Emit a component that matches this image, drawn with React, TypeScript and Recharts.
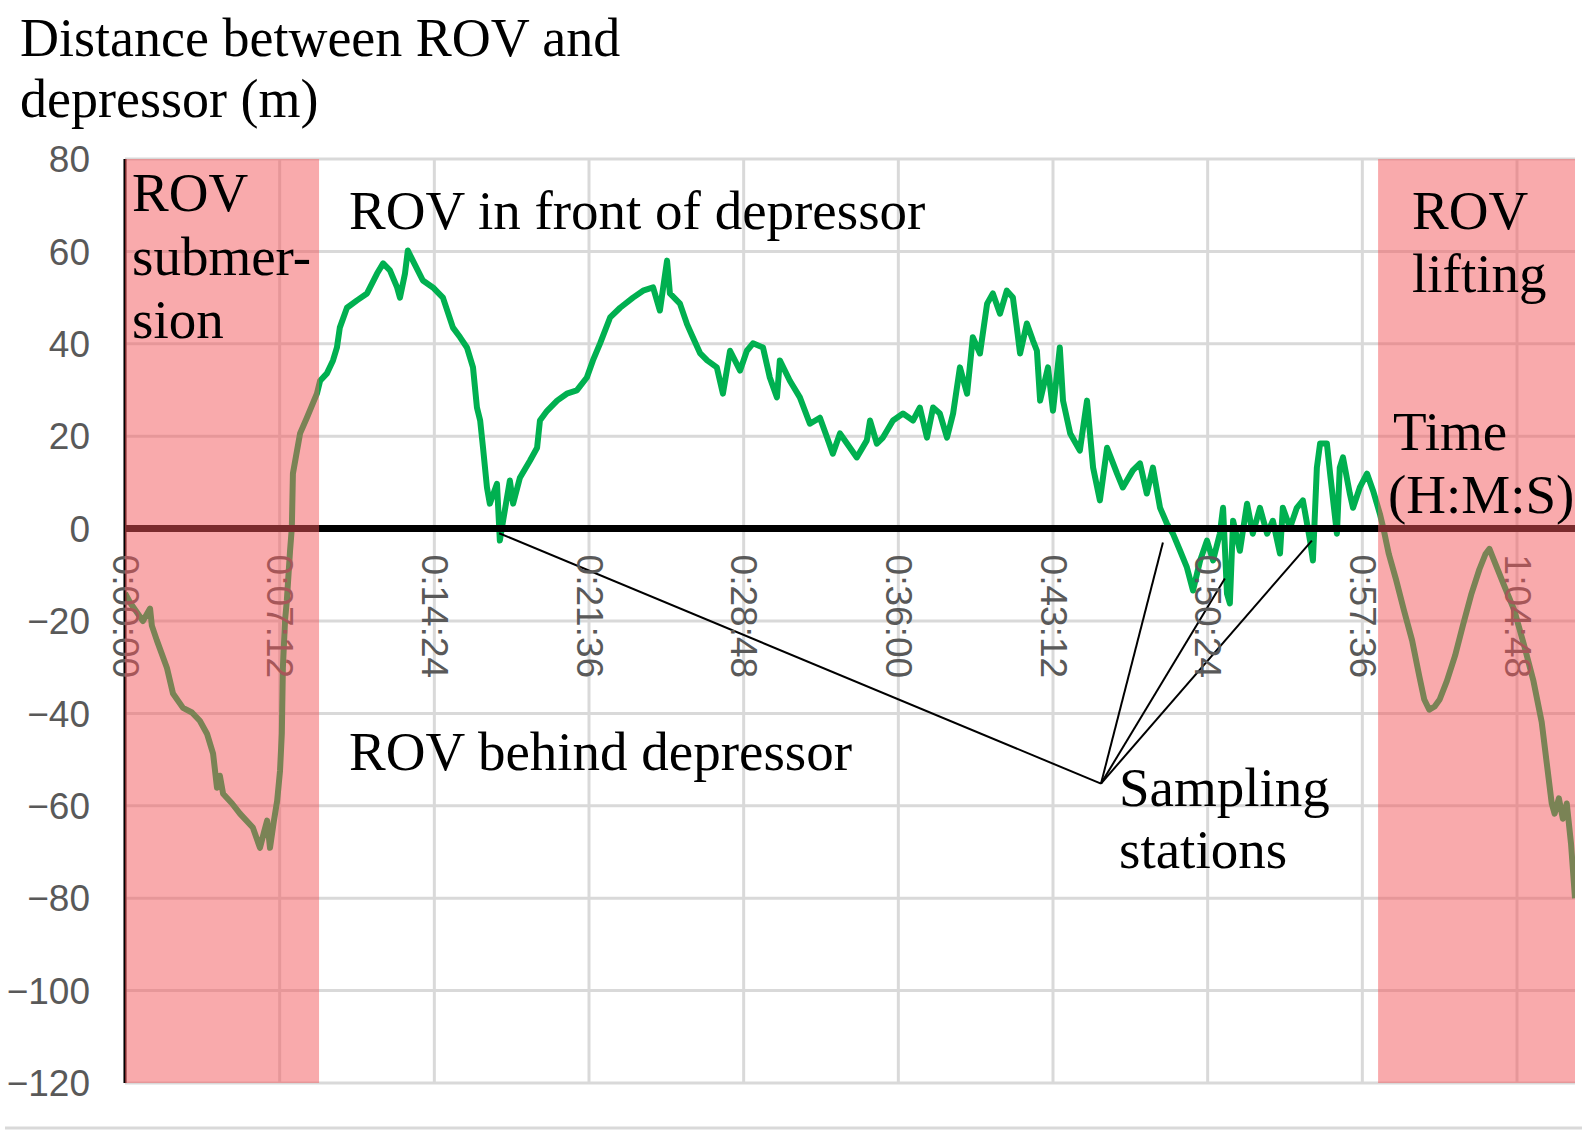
import {
  LineChart,
  Line,
  XAxis,
  YAxis,
  CartesianGrid,
  ReferenceLine,
  ReferenceArea,
  ReferenceDot,
} from "recharts";

// time since start (s) and ROV-depressor distance (m)
const TIME_S = [
  0, 14, 50, 70, 75, 89, 117, 134, 162, 187, 209, 229, 246, 257, 265, 274, 299, 321, 357, 377,
  388, 397, 405, 416, 425, 433, 438, 441, 447, 452, 461, 466, 469, 489, 508, 536, 545, 564, 581, 592,
  600, 620, 648, 676, 704, 721, 740, 760, 768, 782, 790, 804, 832, 860, 888, 916, 936, 955, 972, 983,
  992, 1000, 1011, 1019, 1039, 1047, 1056, 1075, 1084, 1103, 1131, 1151, 1159, 1179, 1207, 1234, 1262, 1290, 1307, 1327,
  1355, 1383, 1419, 1447, 1475, 1494, 1514, 1522, 1550, 1570, 1586, 1606, 1626, 1653, 1670, 1690, 1718, 1737, 1754, 1782,
  1801, 1821, 1829, 1857, 1885, 1913, 1941, 1961, 1977, 1997, 2025, 2044, 2072, 2081, 2100, 2117, 2145, 2173, 2201, 2220,
  2240, 2257, 2276, 2296, 2313, 2332, 2352, 2368, 2388, 2408, 2424, 2444, 2463, 2480, 2491, 2500, 2519, 2536, 2547, 2556,
  2578, 2592, 2611, 2620, 2640, 2667, 2687, 2704, 2723, 2743, 2771, 2787, 2815, 2835, 2854, 2871, 2891, 2910, 2927, 2947,
  2966, 2983, 3003, 3022, 3039, 3058, 3067, 3078, 3086, 3095, 3114, 3134, 3150, 3170, 3190, 3206, 3226, 3234, 3254, 3273,
  3290, 3310, 3318, 3329, 3338, 3357, 3366, 3385, 3393, 3402, 3421, 3430, 3449, 3469, 3486, 3505, 3515, 3530, 3550, 3572,
  3595, 3615, 3629, 3643, 3658, 3672, 3692, 3715, 3737, 3760, 3783, 3800, 3811, 3828, 3851, 3880, 3908, 3934, 3957, 3971,
  3985, 3993, 4005, 4016, 4027, 4039, 4050,
];

const DIST_M = [
  -14, -16, -20, -17.3, -21, -24.2, -30.1, -35.7, -38.8, -39.8, -41.6, -44.4, -48.7, -56.1, -53.5, -57.4, -59.5, -61.7, -64.7, -69.1,
  -65.8, -63.2, -69.1, -63.2, -58.9, -52.4, -44.4, -30.1, -19.9, -15.6, -4.8, 0.2, 11.9, 20.6, 24, 29.2, 32, 33.6, 36.4, 39.2,
  43.5, 47.8, 49.4, 50.9, 55.2, 57.4, 55.9, 52.2, 50, 55.2, 60.2, 58, 53.7, 52.2, 50, 43.5, 41.4, 39.2, 34.9, 26.2,
  23.4, 17.5, 8.9, 5.4, 9.7, -2.6, 1.7, 10.4, 5.4, 11, 14.7, 17.5, 23.4, 25.5, 27.7, 29.2, 29.9, 32.7, 36.4, 40.1,
  45.7, 47.8, 50, 51.5, 52.2, 47.2, 58, 50.9, 48.7, 44.2, 41.4, 38, 36.4, 34.9, 29.2, 38.5, 34.2, 38.5, 40.1, 39.2,
  32.7, 28.4, 36.4, 32, 28.4, 22.7, 24, 19.7, 16.2, 20.6, 17.5, 15.4, 19.1, 23.4, 18.4, 19.7, 23.4, 24.9, 23.4, 26.2,
  19.7, 26.2, 24.9, 19.7, 24.9, 34.9, 29.2, 41.4, 37.9, 48.7, 50.9, 46.5, 51.5, 50, 43.5, 37.9, 44.4, 40.7, 38.5, 27.7,
  34.9, 25.5, 39.2, 27.7, 20.6, 16.9, 27.7, 13.2, 6.1, 17.5, 11.9, 8.9, 12.6, 14.1, 7.6, 13.2, 4.5, 1.1, -1.1, -4.8,
  -8.4, -13.4, -6.9, -2.6, -6.9, -1.1, 4.5, -14.1, -16.2, 1.7, -4.8, 5.4, -1.1, 4.5, -1.1, 1.7, -5.4, 4.5, 0.2, 4.5,
  6.1, -2.6, -6.9, 13.2, 18.4, 18.4, 11.9, -1.1, 13.2, 15.4, 7.6, 4.5, 8.9, 11.9, 8.2, 3.2, 0, -5.5, -11, -17.6,
  -24.2, -31.9, -37, -39.2, -38.5, -37, -33, -27.5, -20.9, -14.3, -8.8, -5.5, -4.4, -7.7, -12.1, -17.6, -25.3, -33, -41.9, -50.7,
  -59.5, -61.7, -58.4, -62.8, -59.5, -68.3, -80,
];

const X_TICKS = [0, 432, 864, 1296, 1728, 2160, 2592, 3024, 3456, 3888];
const Y_TICKS = [-120, -100, -80, -60, -40, -20, 0, 20, 40, 60, 80];
const X_DOMAIN = [0, 4050];
const Y_DOMAIN = [-120, 80];

// submersion / lifting phases (s)
const PHASES = [
  [0, 542],
  [3500, 4050],
];

// sampling stations on the trace and the point the callout lines meet
const STATIONS = [
  { t: 1045, v: -1 },
  { t: 2899, v: -3 },
  { t: 3072, v: -10.8 },
  { t: 3315, v: -2.6 },
];
const CALLOUT = { t: 2726, v: -55.2 };

const data = TIME_S.map((t, i) => ({ t, v: DIST_M[i] }));

const W = 1595;
const H = 1141;
const MARGIN = { top: 159, right: 20, bottom: 0, left: 0 };
const SANS = "'Liberation Sans', Arial, sans-serif";
const SERIF = "'Liberation Serif', 'Times New Roman', serif";

const pad = (n: number) => String(n).padStart(2, "0");
const fmtTime = (s: number) =>
  `${Math.floor(s / 3600)}:${pad(Math.floor((s % 3600) / 60))}:${pad(s % 60)}`;
const fmtDist = (v: number) => (v < 0 ? `\u2212${-v}` : `${v}`);

// time labels sit on the zero line, rotated to read downwards
const TimeTick = ({ cx, cy, text }: { cx?: number; cy?: number; text: string }) => {
  if (cx == null || cy == null) return null;
  const y = cy + 26;
  return (
    <text
      x={cx}
      y={y}
      transform={`rotate(90, ${cx}, ${y})`}
      textAnchor="start"
      dominantBaseline="central"
      fontSize={37}
      fontFamily={SANS}
      fill="#595959"
    >
      {text}
    </text>
  );
};

// the x axis keeps its ticks for the grid but draws nothing at the bottom
const NoTick = () => <g />;

const notes = [
  { x: 20, y: 56, text: "Distance between ROV and", size: 54 },
  { x: 20, y: 117, text: "depressor (m)", size: 54 },
  { x: 349, y: 229, text: "ROV in front of depressor", size: 55 },
  { x: 349, y: 770, text: "ROV behind depressor", size: 55 },
  { x: 132, y: 211, text: "ROV", size: 55 },
  { x: 132, y: 275, text: "submer-", size: 55 },
  { x: 132, y: 338, text: "sion", size: 55 },
  { x: 1412, y: 229, text: "ROV", size: 55 },
  { x: 1412, y: 292, text: "lifting", size: 55 },
  { x: 1393, y: 450, text: "Time", size: 55 },
  { x: 1388, y: 513, text: "(H:M:S)", size: 55 },
  { x: 1119, y: 806, text: "Sampling", size: 55 },
  { x: 1119, y: 868, text: "stations", size: 55 },
];

export default function App() {
  return (
    <div style={{ position: "absolute", left: 0, top: 0, width: W, height: H, background: "#fff" }}>
      <LineChart width={W} height={H} data={data} margin={MARGIN}>
        <CartesianGrid stroke="#d9d9d9" strokeWidth={3} verticalValues={X_TICKS} />
        <XAxis
          type="number"
          dataKey="t"
          domain={X_DOMAIN}
          ticks={X_TICKS}
          interval={0}
          allowDataOverflow
          height={58}
          tick={NoTick}
          axisLine={false}
          tickLine={false}
        />
        <YAxis
          type="number"
          domain={Y_DOMAIN}
          ticks={Y_TICKS}
          width={125}
          tickFormatter={fmtDist}
          tick={{ fontSize: 37, fontFamily: SANS, fill: "#595959" }}
          tickLine={false}
          tickSize={0}
          tickMargin={35}
          axisLine={{ stroke: "#000", strokeWidth: 3 }}
        />
        <Line
          type="linear"
          dataKey="v"
          stroke="#00b050"
          strokeWidth={6}
          strokeLinejoin="round"
          dot={false}
          activeDot={false}
          isAnimationActive={false}
        />
        <ReferenceLine y={0} stroke="#000" strokeWidth={7} />
        {STATIONS.map((s, i) => (
          <ReferenceLine
            key={i}
            segment={[
              { x: CALLOUT.t, y: CALLOUT.v },
              { x: s.t, y: s.v },
            ]}
            stroke="#000"
            strokeWidth={2}
          />
        ))}
        {X_TICKS.map((t) => (
          <ReferenceDot
            key={t}
            x={t}
            y={0}
            r={0}
            shape={(p: any) => <TimeTick cx={p.cx} cy={p.cy} text={fmtTime(t)} />}
          />
        ))}
      </LineChart>

      {/* translucent phase bands go over the trace, ticks and zero line */}
      <div style={{ position: "absolute", left: 0, top: 0, pointerEvents: "none" }}>
        <LineChart width={W} height={H} data={data} margin={MARGIN}>
          <XAxis
            type="number"
            dataKey="t"
            domain={X_DOMAIN}
            allowDataOverflow
            height={58}
            tick={false}
            axisLine={false}
            tickLine={false}
          />
          <YAxis
            type="number"
            domain={Y_DOMAIN}
            width={125}
            tick={false}
            axisLine={false}
            tickLine={false}
          />
          <Line
            type="linear"
            dataKey="v"
            stroke="none"
            dot={false}
            activeDot={false}
            isAnimationActive={false}
          />
          {PHASES.map(([a, b]) => (
            <ReferenceArea
              key={a}
              x1={a}
              x2={b}
              y1={Y_DOMAIN[0]}
              y2={Y_DOMAIN[1]}
              fill="#f45559"
              fillOpacity={0.5}
              stroke="none"
              ifOverflow="visible"
            />
          ))}
        </LineChart>
      </div>

      <svg
        width={W}
        height={H}
        style={{ position: "absolute", left: 0, top: 0, pointerEvents: "none" }}
      >
        {notes.map((n, i) => (
          <text key={i} x={n.x} y={n.y} fontSize={n.size} fontFamily={SERIF} fill="#000">
            {n.text}
          </text>
        ))}
        <line x1={5} x2={1582} y1={1128} y2={1128} stroke="#d9d9d9" strokeWidth={3} />
      </svg>
    </div>
  );
}
